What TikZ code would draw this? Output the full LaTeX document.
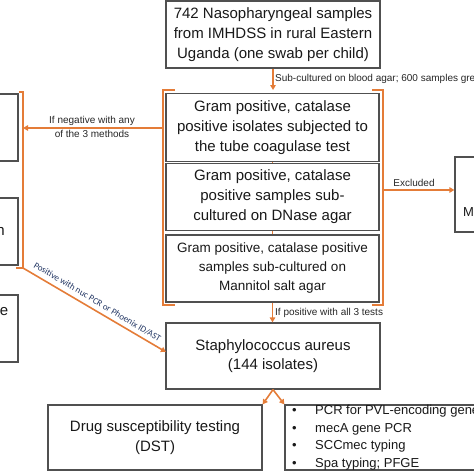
\documentclass[tikz,border=0pt]{standalone}
\usepackage{fontspec}
\setmainfont{Liberation Sans}
\newfontfamily\carl{Carlito}
\usetikzlibrary{arrows.meta}
\definecolor{orng}{RGB}{228,124,56}
\definecolor{bgray}{RGB}{80,80,80}
\definecolor{navyt}{RGB}{35,55,100}
\begin{document}
\begin{tikzpicture}[x=1pt,y=-1pt,
  box/.style={draw=bgray,line width=1.2pt,fill=white,inner sep=0pt,align=center,text=black!90},
  big/.style={font=\fontsize{15}{20}\selectfont},
  mid/.style={font=\fontsize{13.5}{19}\selectfont},
  conn/.style={draw=orng,line width=1.6pt,-{Triangle[length=5pt,width=5.5pt]}},
  brk/.style={draw=orng,line width=1.6pt},
  lbl/.style={font=\fontsize{10}{13.5}\selectfont,text=black!85,inner sep=0pt,align=center},
  dlbl/.style={font=\carl\fontsize{9}{10}\selectfont,text=navyt,inner sep=0pt}]
\clip (0,0) rectangle (474,474);
% main column
\node[box,big,minimum width=214pt,minimum height=67pt] (src) at (273,34.5)
  {742 Nasopharyngeal samples\\from IMHDSS in rural Eastern\\Uganda (one swab per child)};
\node[box,big,minimum width=213pt,minimum height=68pt] (b1) at (272.5,127.5)
  {Gram positive, catalase\\positive isolates subjected to\\the tube coagulase test};
\node[box,big,minimum width=213pt,minimum height=67pt] (b2) at (272.5,197)
  {Gram positive, catalase\\positive samples sub-\\cultured on DNase agar};
\node[box,mid,minimum width=213pt,minimum height=67pt] (b3) at (272.5,268.5)
  {Gram positive, catalase positive\\samples sub-cultured on\\Mannitol salt agar};
\node[box,big,minimum width=214pt,minimum height=66pt,font=\fontsize{15}{19}\selectfont] (staph) at (273,356)
  {Staphylococcus aureus\\(144 isolates)};
\node[box,big,minimum width=214pt,minimum height=65pt] (dst) at (155,437.5)
  {Drug susceptibility testing\\(DST)};
\node[box,minimum width=235pt,minimum height=65pt] (lstbox) at (402.5,437.5) {};
\node[anchor=west,align=left,inner sep=0pt,text=black!90,font=\fontsize{13}{17.7}\selectfont] (lsttxt) at (292,437.5)
  {\makebox[23pt][l]{\textbullet}PCR for PVL-encoding genes\\
   \makebox[23pt][l]{\textbullet}mecA gene PCR\\
   \makebox[23pt][l]{\textbullet}SCCmec typing\\
   \makebox[23pt][l]{\textbullet}Spa typing; PFGE};
% right box
\node[box,minimum width=60pt,minimum height=75pt] (excl) at (485,194.5) {};
\node[anchor=west,inner sep=0pt,text=black!90,font=\fontsize{13}{16}\selectfont] (excltxt) at (463,212) {M};
% left boxes
\node[box,minimum width=58pt,minimum height=67pt] (L1) at (-11,127.5) {};
\node[box,minimum width=58pt,minimum height=67pt] (L2) at (-11,231.5) {};
\node[box,minimum width=58pt,minimum height=67pt] (L3) at (-11,328.5) {};
\node[anchor=east,inner sep=0pt,text=black!90,font=\fontsize{15}{20}\selectfont] (L2t) at (4.8,231) {n};
\node[anchor=east,inner sep=0pt,text=black!90,font=\fontsize{15}{20}\selectfont] (L3t) at (8.5,312) {e};
% brackets
\draw[brk] (175,90) -- (163,90) -- (163,305) -- (175,305);
\draw[brk] (372,90) -- (383,90) -- (383,305) -- (372,305);
\draw[brk] (19,92) -- (23,92) -- (23,268) -- (16,268);
\coordinate (c1top) at (273,90);
\coordinate (lbA) at (163,128);
\coordinate (lbZ) at (23,128);
\coordinate (exA) at (383,190);
\coordinate (lbB) at (23,268);
\coordinate (dgE) at (166,352);
% connectors
\draw[conn] (src.south) -- (c1top);
\draw[brk,line width=1.2pt] (b1.south) -- (b2.north);
\draw[brk,line width=1.2pt] (b2.south) -- (b3.north);
\draw[conn] (lbA) -- (lbZ);
\draw[conn] (exA) -- (exA -| excl.west);
\draw[conn] (b3.south) -- (b3.south |- staph.north);
\draw[conn] (lbB) -- (dgE);
\draw[conn] (staph.south) -- (dst.north east);
\draw[conn] (staph.south) -- (lstbox.north west);
% labels
\node[lbl,anchor=west] (t1) at (275,79) {Sub-cultured on blood agar; 600 samples grew};
\node[lbl] (t2) at (92,127) {If negative with any\\of the 3 methods};
\node[lbl] (t3) at (414,183) {Excluded};
\node[lbl,anchor=west] (t4) at (275,313) {If positive with all 3 tests};
\node[dlbl,rotate=-30.8] (t5) at (97.5,302) {Positive with nuc PCR or Phoenix ID/AST};
\end{tikzpicture}
\end{document}
